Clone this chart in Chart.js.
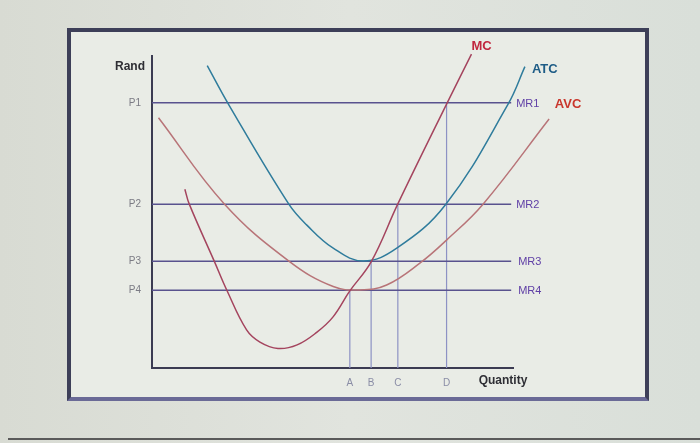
<!DOCTYPE html>
<html><head><meta charset="utf-8">
<script src="https://cdn.jsdelivr.net/npm/chart.js@4/dist/chart.umd.min.js"></script>
<style>
html,body{margin:0;padding:0;background:#dcdfd8;}
#wrap{position:relative;width:700px;height:443px;overflow:hidden;background:linear-gradient(90deg,#d8dbd3,#e1e4de 50%,#d9dfd9);}
#frame{position:absolute;left:67px;top:28px;width:574px;height:365px;border:4px solid #3d3f58;border-bottom-color:#6a6a96;background:#e9ece6;}
#rule{position:absolute;left:8px;top:438px;width:692px;height:2px;background:#5a5a5a;}
canvas{position:absolute;left:0;top:0;}
</style></head><body>
<div id="wrap"><div id="frame"></div><div id="rule"></div><canvas id="c" width="700" height="443"></canvas></div>
<script>
// Price levels P1..P4 and their MR lines
const priceLevels = [85, 52.5, 34.2, 24.9];
const priceLabels = ['P1', 'P2', 'P3', 'P4'];
const mrLabels = ['MR1', 'MR2', 'MR3', 'MR4'];
const mrEnd = 99.5;
// Quantities A..D and the price level each one rises to
const qtyPoints = [54.8, 60.7, 68.1, 81.6];
const qtyLabels = ['A', 'B', 'C', 'D'];
const qtyPriceIndex = [3, 2, 1, 0];
// Cost curves
const atcX = [15.3, 21.2, 37.9, 42.9, 50.2, 58.5, 67.8, 81.4, 98.6, 103.3];
const atcY = [96.9, 84.5, 52.5, 45.8, 38.4, 34.3, 38.4, 52.5, 84.5, 96.6];
const avcX = [1.8, 20.1, 38.1, 50.2, 57.6, 65, 74.2, 81.6, 91.7, 110];
const avcY = [80.2, 52.5, 34.1, 26.1, 25, 26.6, 33.6, 41, 52.5, 79.8];
const mcX = [9.1, 10.3, 17.3, 20.7, 26.2, 29.9, 34.9, 40.2, 45.7, 50.1, 54.8, 60.7, 68.1, 81.6, 88.5];
const mcY = [57.3, 52.6, 34.1, 25, 12.2, 8.3, 6.25, 7.4, 11.5, 16.3, 24.7, 34, 52.6, 84.6, 100.6];

const pts = (xs, ys) => xs.map((x, i) => ({x, y: ys[i]}));
const curveStyle = {pointRadius: 0, borderWidth: 1.5, fill: false, tension: 0.4, clip: false, order: 0};

const datasets = [
  Object.assign({label: 'MC', data: pts(mcX, mcY), borderColor: '#a4445e'}, curveStyle),
  Object.assign({label: 'ATC', data: pts(atcX, atcY), borderColor: '#2f7c9c'}, curveStyle),
  Object.assign({label: 'AVC', data: pts(avcX, avcY), borderColor: '#b87478'}, curveStyle),
];
priceLevels.forEach((p, i) => datasets.push({
  label: mrLabels[i], data: [{x: 0, y: p}, {x: mrEnd, y: p}],
  borderColor: '#59528e', borderWidth: 1.5, pointRadius: 0, clip: false, order: 1
}));
qtyPoints.forEach((q, i) => datasets.push({
  label: qtyLabels[i], data: [{x: q, y: 0}, {x: q, y: priceLevels[qtyPriceIndex[i]]}],
  borderColor: '#8d92c4', borderWidth: 1.2, pointRadius: 0, clip: false, order: 1
}));

const labelPlugin = {
  id: 'labels',
  afterDatasetsDraw(chart) {
    const ctx = chart.ctx, xs = chart.scales.x, ys = chart.scales.y;
    ctx.save();
    ctx.textBaseline = 'middle';
    const last = (xa, ya) => [xs.getPixelForValue(xa[xa.length - 1]), ys.getPixelForValue(ya[ya.length - 1])];
    ctx.font = 'bold 13px "Liberation Sans", Arial, sans-serif';
    let [px, py] = last(mcX, mcY);
    ctx.fillStyle = '#c0263e'; ctx.textAlign = 'center'; ctx.fillText('MC', px + 10, py - 8);
    [px, py] = last(atcX, atcY);
    ctx.fillStyle = '#1e5c86'; ctx.textAlign = 'left'; ctx.fillText('ATC', px + 7, py + 3);
    [px, py] = last(avcX, avcY);
    ctx.fillStyle = '#c9362c'; ctx.textAlign = 'center'; ctx.fillText('AVC', px + 19, py - 15);
    ctx.font = '11px "Liberation Sans", Arial, sans-serif';
    ctx.fillStyle = '#6040a6'; ctx.textAlign = 'left';
    priceLevels.forEach((p, i) => ctx.fillText(mrLabels[i], xs.getPixelForValue(mrEnd) + 5 + (i >= 2 ? 2 : 0), ys.getPixelForValue(p) + 1));
    ctx.font = 'bold 12px "Liberation Sans", Arial, sans-serif';
    ctx.fillStyle = '#2e2e34';
    ctx.textAlign = 'right'; ctx.fillText('Rand', chart.chartArea.left - 7, chart.chartArea.top + 11);
    ctx.textAlign = 'center'; ctx.fillText('Quantity', chart.chartArea.right - 10, chart.chartArea.bottom + 13);
    ctx.restore();
  }
};

new Chart(document.getElementById('c'), {
  type: 'line',
  data: {datasets},
  options: {
    responsive: false, animation: false,
    layout: {padding: {left: 0, top: 56, right: 187, bottom: 51}},
    plugins: {legend: {display: false}, tooltip: {enabled: false}},
    scales: {
      x: {
        type: 'linear', min: 0, max: 100,
        grid: {color: 'rgba(0,0,0,0)', drawTicks: false},
        border: {display: true, color: '#3b3b52', width: 2},
        afterBuildTicks: s => { s.ticks = qtyPoints.map(v => ({value: v})); },
        afterFit: s => { s.height = 24; },
        ticks: {padding: 9, autoSkip: false, maxRotation: 0, color: '#8a8da6',
          font: {size: 10, family: '"Liberation Sans", Arial, sans-serif'},
          callback: (v, i) => qtyLabels[i]}
      },
      y: {
        type: 'linear', min: 0, max: 100,
        grid: {color: 'rgba(0,0,0,0)', drawTicks: false},
        border: {display: true, color: '#3b3b52', width: 2},
        afterBuildTicks: s => { s.ticks = priceLevels.slice().reverse().map(v => ({value: v})); },
        afterFit: s => { s.width = 152; },
        ticks: {padding: 11, autoSkip: false, color: '#7b7b84',
          font: {size: 10, family: '"Liberation Sans", Arial, sans-serif'},
          callback: (v, i) => priceLabels[priceLevels.length - 1 - i]}
      }
    }
  },
  plugins: [labelPlugin]
});
</script>
</body></html>
